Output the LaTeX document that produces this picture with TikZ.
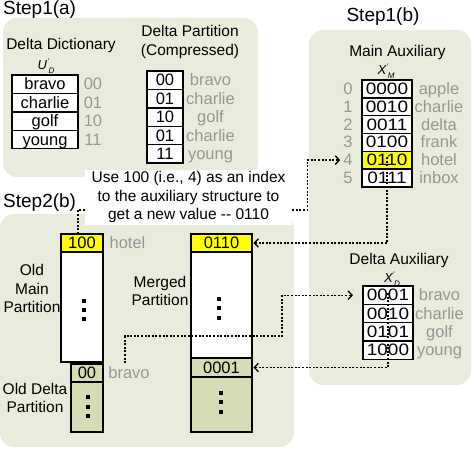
\documentclass[tikz,border=0pt]{standalone}
\usepackage{fontspec}
\setmainfont{Liberation Sans}
\newfontfamily\digfont{Liberation Sans}[FakeStretch=1.15]
\usetikzlibrary{arrows.meta}
\definecolor{panelbg}{RGB}{233,236,220}
\definecolor{dgreen}{RGB}{213,221,181}
\definecolor{lbl}{RGB}{150,150,150}
\definecolor{hl}{RGB}{255,255,0}
\newcommand{\auxsym}[2]{{\fontsize{13}{13}\selectfont\itshape #1\rlap{\raisebox{0.42em}{\fontsize{8}{8}\selectfont '}}\raisebox{-0.3em}{\fontsize{8}{8}\selectfont\kern1.5pt #2}}}
\begin{document}
\begin{tikzpicture}[x=1pt,y=-1pt,
  panel/.style={fill=panelbg, rounded corners=14pt, draw=none},
  steplbl/.style={font=\fontsize{19}{22}\selectfont, inner sep=0},
  ttl/.style={font=\fontsize{15.5}{18.5}\selectfont, align=center, inner sep=0},
  cell/.style={draw, line width=1.4pt, fill=white, inner sep=0, outer sep=0,
    text height=14.3pt, text depth=3pt, font=\fontsize{16.5}{18}\selectfont},
  auxcell/.style={cell, font=\digfont\fontsize{16.5}{18}\selectfont},
  gl/.style={text=lbl, inner sep=1pt, text height=14.3pt, text depth=3pt,
    font=\fontsize{16.5}{18}\selectfont},
  conn/.style={line width=1.3pt, dash pattern=on 2pt off 1.6pt},
  arr/.style={conn, -{Straight Barb[length=4pt,width=8.5pt,line width=1.3pt]}},
]
\useasboundingbox (0,0) rectangle (474,452);
% panels
\fill[panel] (3,18) rectangle (258,177);
\fill[panel] (309,30) rectangle (471,385);
\fill[panel] (0,214) rectangle (294,447);
% step labels
\node[steplbl, anchor=west] (s1a) at (3,10) {Step1(a)};
\node[steplbl] (s1b) at (383,17) {Step1(b)};
\node[steplbl, anchor=west] (s2b) at (3,203) {Step2(b)};

% ---- Step1(a)
\node[ttl] (ddt) at (61,45) {Delta Dictionary};
\node[inner sep=0] (ud) at (46,66) {\auxsym{U}{D}};
\foreach \w [count=\i] in {bravo,charlie,golf,young}{
  \node[cell, minimum width=66pt, minimum height=18.4pt] (dd\i) at (45, 65.8+18.4*\i) {\w};
}
\foreach \c [count=\i] in {00,01,10,11}{
  \node[gl] (dc\i) at (93, 65.8+18.4*\i) {\c};
}
\node[ttl] (dpt) at (190,42) {Delta Partition\\(Compressed)};
\foreach \c [count=\i] in {00,01,10,01,11}{
  \node[cell, minimum width=36pt, minimum height=18.4pt] (dp\i) at (165, 61.8+18.4*\i) {\c};
}
\foreach \w [count=\i] in {bravo,charlie,golf,charlie,young}{
  \node[gl] (dpl\i) at (210.5, 61.8+18.4*\i) {\w};
}

% ---- Step1(b)
\node[ttl] (mat) at (397.5,52) {Main Auxiliary};
\node[inner sep=0] (xm) at (386,71) {\auxsym{X}{M}};
\foreach \c/\w/\f [count=\i from 0] in {0000/apple/white,0010/charlie/white,0011/delta/white,0100/frank/white,0110/hotel/hl,0111/inbox/white}{
  \node[auxcell, fill=\f, minimum width=50pt, minimum height=17.8pt] (ma\i) at (387, 88.9+17.8*\i) {\c};
  \node[gl] (idx\i) at (348, 88.9+17.8*\i) {\i};
  \node[gl] (mal\i) at (439, 88.9+17.8*\i) {\w};
}
\node[ttl] (dat) at (399,260) {Delta Auxiliary};
\node[inner sep=0] (xd) at (392,279) {\auxsym{X}{D}};
\foreach \c/\w [count=\i] in {0001/bravo,0010/charlie,0101/golf,1000/young}{
  \node[auxcell, minimum width=50pt, minimum height=18.3pt] (da\i) at (388, 276.9+18.3*\i) {\c};
  \node[gl] (dal\i) at (439.5, 276.9+18.3*\i) {\w};
}

% ---- Step2(b)
\node[cell, fill=hl, minimum width=42pt, minimum height=18pt] (om1) at (82,243) {100};
\node[cell, minimum width=42pt, minimum height=110pt] (om2) at (82,307) {};
\node[cell, fill=dgreen, minimum width=32pt, minimum height=18pt] (od1) at (87,373) {00};
\node[cell, fill=dgreen, minimum width=32pt, minimum height=50pt] (od2) at (87,407) {};
\node[cell, fill=hl, minimum width=61pt, minimum height=18pt] (mp1) at (221.5,243) {0110};
\node[cell, minimum width=61pt, minimum height=106pt] (mpm) at (221.5,305) {};
\node[cell, fill=dgreen, minimum width=61pt, minimum height=19pt] (mp2) at (221.5,367.5) {0001};
\node[cell, fill=dgreen, minimum width=61pt, minimum height=55pt] (mp3) at (221.5,404.5) {};
\foreach \y in {301,310,319} \fill (84,\y) +(-2.2,-2.2) rectangle +(2.2,2.2);
\foreach \y in {397,407,416} \fill (88,\y) +(-2.2,-2.2) rectangle +(2.2,2.2);
\foreach \y in {299,308,318} \fill (219,\y) +(-2.2,-2.2) rectangle +(2.2,2.2);
\foreach \y in {393,402,412} \fill (221,\y) +(-2.2,-2.2) rectangle +(2.2,2.2);
\node[gl] (hotel) at (127.5,243) {hotel};
\node[gl] (bravo) at (129,373) {bravo};
\node[ttl] (omlbl) at (32,288.5) {Old\\Main\\Partition};
\node[ttl] (odlbl) at (35,398) {Old Delta\\Partition};
\node[ttl] (mplbl) at (160,291) {Merged\\Partition};

% note box
\node[fill=white, inner sep=0, minimum width=207pt, minimum height=55pt, align=center,
  font=\fontsize{15.5}{18.5}\selectfont] (note) at (188.5,197)
  {Use 100 (i.e., 4) as an index\\to the auxiliary structure to\\get a new value -{}- 0110};

% connectors
\draw[conn] ([xshift=-4pt]om1.north) |- ([yshift=-13pt]note.west);
\draw[arr, shorten >=2pt] ([yshift=-13pt]note.east) -- ++(15,0) |- (idx4.west);
\draw[arr, shorten >=1.5pt] ([yshift=3pt]ma4.center) |- (mp1.east);
\draw[arr, shorten >=10pt] ([xshift=-4pt]bravo.north) |- (282,336) |- (da1.west);
\draw[arr, shorten >=1.5pt] ([yshift=2pt]da1.center) |- (mp2.east);
\end{tikzpicture}
\end{document}
